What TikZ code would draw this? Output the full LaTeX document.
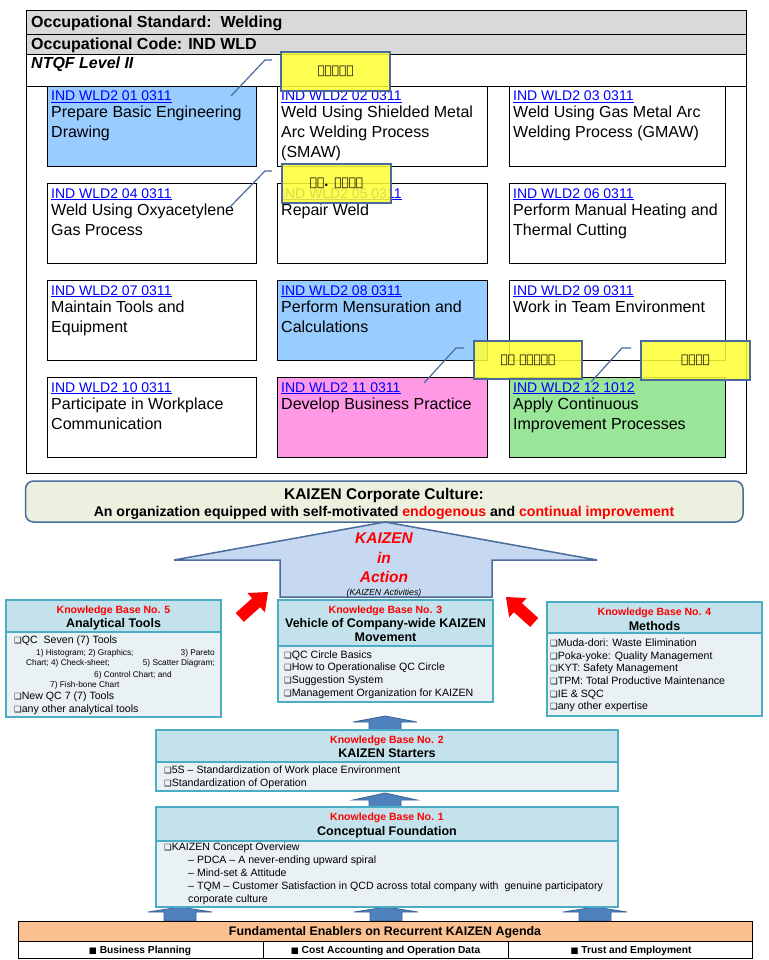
\documentclass[tikz,border=0pt]{standalone}
\usepackage{fontspec}
\setmainfont{Liberation Sans}
\newfontfamily\symf{DejaVu Sans}
\IfFontExistsTF{FreeSerif.otf}{\newfontfamily\ethf{FreeSerif.otf}[AutoFakeBold=1.5]}{\newfontfamily\ethf{DejaVu Sans}}
\newcommand\fs[1]{\fontsize{#1}{#1}\selectfont}
\newcommand\bx{{\symf\fontsize{8.5}{8.5}\selectfont ❑}}
\newcommand\sq{{\symf\fontsize{8.5}{8.5}\selectfont ■}}
\definecolor{codeblue}{HTML}{0000FF}
\definecolor{cellblue}{HTML}{99CCFF}
\definecolor{cellpink}{HTML}{FF99E6}
\definecolor{cellgreen}{HTML}{99E699}
\definecolor{hdrgray}{HTML}{D9D9D9}
\definecolor{calyel}{HTML}{FFFF33}
\definecolor{calline}{HTML}{4A6B9B}
\definecolor{cultfill}{HTML}{EBF1DE}
\definecolor{bigfill}{HTML}{C6D9F1}
\definecolor{kbhead}{HTML}{C3E2EB}
\definecolor{kbbody}{HTML}{E9F1F5}
\definecolor{kbline}{HTML}{4BACC6}
\definecolor{smallfill}{HTML}{4F81BD}
\definecolor{smallline}{HTML}{3B6496}
\definecolor{peach}{HTML}{FAC090}
\tikzset{
  cell/.style={draw=black, line width=0.8pt},
  code/.style={anchor=base west, inner sep=0pt, text=codeblue, font=\fs{14}},
  ttl/.style={anchor=base west, inner sep=0pt, font=\fs{16}},
  hdr/.style={anchor=base west, inner sep=0pt, font=\bfseries\fs{16}},
  callbox/.style={draw=calline, line width=1.3pt, fill=calyel, fill opacity=0.85, text opacity=1,
     minimum width=109pt, minimum height=39pt, inner sep=0pt, font=\ethf\bfseries\fs{12}},
  leader/.style={draw=calline, line width=1.2pt},
  kbframe/.style={draw=kbline, line width=1.2pt},
  kbred/.style={anchor=base, inner sep=0pt, text=red, font=\bfseries\fs{10.5}},
  kbttl/.style={anchor=base, inner sep=0pt, font=\bfseries\fs{12.5}},
  kbitem/.style={anchor=base west, inner sep=0pt, font=\fs{10.6}},
  kbsub/.style={anchor=base west, inner sep=0pt, font=\fs{8.3}},
  kbsubr/.style={anchor=base east, inner sep=0pt, font=\fs{8.3}},
  smallarr/.style={fill=smallfill, draw=smallline, line width=0.8pt},
  redarr/.style={fill=red, draw=none},
  bigtxt/.style={anchor=base, inner sep=0pt, text=red, font=\bfseries\itshape\fs{15.5}},
  entxt/.style={anchor=base, inner sep=0pt, font=\bfseries\fs{10.2}},
}
\newcommand\upblk[4]{\begin{scope}[shift={(#1,0)}]
  \draw[smallarr] (0,#2) -- (32,#3) -- (16,#3) -- (16,#4) -- (-16,#4) -- (-16,#3) -- (-32,#3) -- cycle;
  \end{scope}}
\begin{document}
\begin{tikzpicture}[x=1pt,y=-1pt]
\useasboundingbox (0,0) rectangle (768,960);
\fill[white] (0,0) rectangle (768,960);
% ---------- top frame ----------
\fill[hdrgray] (26,10) rectangle (746,54);
\draw[line width=0.8pt] (26,10) rectangle (746,473);
\draw[line width=0.8pt] (26,34) -- (746,34);
\draw[line width=0.8pt] (26,54) -- (746,54);
\draw[line width=0.8pt] (26,86) -- (746,86);
\node[hdr] (h1) at (31,28) {Occupational Standard:\ \ Welding};
\node[hdr] (h2) at (31,50) {Occupational Code: IND WLD};
\node[hdr, font=\bfseries\itshape\fs{16}] (h3) at (31,69) {NTQF Level II};
% ---------- grid cells ----------
\draw[cell, fill=cellblue] (47,86) rectangle (256,166);
\draw[cell] (277,86) rectangle (487,166);
\draw[cell] (509,86) rectangle (725,166);
\draw[cell] (47,183) rectangle (256,263);
\draw[cell] (277,183) rectangle (487,263);
\draw[cell] (509,183) rectangle (725,263);
\draw[cell] (47,280) rectangle (256,360);
\draw[cell, fill=cellblue] (277,280) rectangle (487,360);
\draw[cell] (509,280) rectangle (725,360);
\draw[cell] (47,377) rectangle (256,457);
\draw[cell, fill=cellpink] (277,377) rectangle (487,457);
\draw[cell, fill=cellgreen] (509,377) rectangle (725,457);
% row 1
\node[code] (c11) at (51,101) {\underline{IND WLD2 01 0311}};
\node[ttl] (t11a) at (51,118) {Prepare Basic Engineering};
\node[ttl] (t11b) at (51,138) {Drawing};
\node[code] (c12) at (281,101) {\underline{IND WLD2 02 0311}};
\node[ttl] (t12a) at (281,118) {Weld Using Shielded Metal};
\node[ttl] (t12b) at (281,138) {Arc Welding Process};
\node[ttl] (t12c) at (281,158) {(SMAW)};
\node[code] (c13) at (513,101) {\underline{IND WLD2 03 0311}};
\node[ttl] (t13a) at (513,118) {Weld Using Gas Metal Arc};
\node[ttl] (t13b) at (513,138) {Welding Process (GMAW)};
% row 2
\node[code] (c21) at (51,198) {\underline{IND WLD2 04 0311}};
\node[ttl] (t21a) at (51,215) {Weld Using Oxyacetylene};
\node[ttl] (t21b) at (51,235) {Gas Process};
\node[code] (c22) at (281,198) {\underline{IND WLD2 05 0311}};
\node[ttl] (t22a) at (281,215) {Repair Weld};
\node[code] (c23) at (513,198) {\underline{IND WLD2 06 0311}};
\node[ttl] (t23a) at (513,215) {Perform Manual Heating and};
\node[ttl] (t23b) at (513,235) {Thermal Cutting};
% row 3
\node[code] (c31) at (51,295) {\underline{IND WLD2 07 0311}};
\node[ttl] (t31a) at (51,312) {Maintain Tools and};
\node[ttl] (t31b) at (51,332) {Equipment};
\node[code] (c32) at (281,295) {\underline{IND WLD2 08 0311}};
\node[ttl] (t32a) at (281,312) {Perform Mensuration and};
\node[ttl] (t32b) at (281,332) {Calculations};
\node[code] (c33) at (513,295) {\underline{IND WLD2 09 0311}};
\node[ttl] (t33a) at (513,312) {Work in Team Environment};
% row 4
\node[code] (c41) at (51,392) {\underline{IND WLD2 10 0311}};
\node[ttl] (t41a) at (51,409) {Participate in Workplace};
\node[ttl] (t41b) at (51,429) {Communication};
\node[code] (c42) at (281,392) {\underline{IND WLD2 11 0311}};
\node[ttl] (t42a) at (281,409) {Develop Business Practice};
\node[code] (c43) at (513,392) {\underline{IND WLD2 12 1012}};
\node[ttl] (t43a) at (513,409) {Apply Continuous};
\node[ttl] (t43b) at (513,429) {Improvement Processes};
% ---------- callouts ----------
\node[callbox] (k1) at (335.5,71.5) {ቴክኖሎጂ};
\node[callbox] (k2) at (336.5,183.5) {ቴክ. ክህሎት};
\node[callbox, minimum width=108pt, minimum height=38pt] (k3) at (528,360) {ሥራ ፈጣሪነት};
\node[callbox] (k4) at (695.5,360.5) {ካይዘን};
\coordinate (l1s) at (272,60);  \coordinate (l1t) at (231,96);
\coordinate (l2s) at (272,171); \coordinate (l2t) at (230,207);
\coordinate (l3s) at (464,348); \coordinate (l3t) at (424,383);
\coordinate (l4s) at (631,348); \coordinate (l4t) at (591,382);
\draw[leader] (l1s) -- (265,60) -- (l1t);
\draw[leader] (l2s) -- (265,171) -- (l2t);
\draw[leader] (l3s) -- (456,348) -- (l3t);
\draw[leader] (l4s) -- (622,348) -- (l4t);
% ---------- culture box ----------
\draw[fill=cultfill, draw=calline, line width=1.5pt, rounded corners=8pt] (25.5,481) rectangle (743,522);
\node[anchor=base, inner sep=0pt, font=\bfseries\fs{15.5}] (cu1) at (384,499) {KAIZEN Corporate Culture:};
\node[anchor=base, inner sep=0pt, font=\bfseries\fs{14.1}] (cu2) at (384,516.5) {An organization equipped with self-motivated \textcolor{red}{endogenous} and \textcolor{red}{continual improvement}};
% ---------- big arrow ----------
\draw[fill=bigfill, draw=calline, line width=1.5pt] (385,522) -- (597,560) -- (492,560) -- (492,597) -- (280,597) -- (280,560) -- (174,560) -- cycle;
\node[bigtxt] (ba1) at (384,543.5) {KAIZEN};
\node[bigtxt] (ba2) at (384,563.5) {in};
\node[bigtxt] (ba3) at (384,582.5) {Action};
\node[anchor=base, inner sep=0pt, font=\itshape\fs{8.8}] (ba4) at (384,595) {(KAIZEN Activities)};
% red arrows
\begin{scope}[shift={(268,592)}, rotate=42]
\fill[redarr] (0,0) -- (-16,-13) -- (-16,-6) -- (-38,-6) -- (-38,6) -- (-16,6) -- (-16,13) -- cycle;
\end{scope}
\begin{scope}[shift={(506,597)}, rotate=138]
\fill[redarr] (0,0) -- (-16,-13) -- (-16,-6) -- (-38,-6) -- (-38,6) -- (-16,6) -- (-16,13) -- cycle;
\end{scope}
% ---------- KB5 ----------
\draw[kbframe, fill=kbbody] (6,600) rectangle (221,717);
\draw[kbframe, fill=kbhead] (6,600) rectangle (221,632);
\node[kbred] (k5a) at (113.5,613) {Knowledge Base No. 5};
\node[kbttl] (k5b) at (113.5,627.5) {Analytical Tools};
\node[kbitem] (k5c) at (14,643) {\bx QC\ \ Seven (7) Tools};
\node[kbsub] (k5d) at (36,655) {1) Histogram; 2) Graphics;};
\node[kbsubr] (k5e) at (215,655) {3) Pareto};
\node[kbsub] (k5f) at (26,665) {Chart; 4) Check-sheet;};
\node[kbsubr] (k5g) at (215,665) {5) Scatter Diagram;};
\node[kbsub] (k5h) at (94,677) {6) Control Chart; and};
\node[kbsub] (k5i) at (50,687.5) {7) Fish-bone Chart};
\node[kbitem] (k5j) at (14,699) {\bx New QC 7 (7) Tools};
\node[kbitem] (k5k) at (14,712) {\bx any other analytical tools};
% ---------- KB3 ----------
\draw[kbframe, fill=kbbody] (278,600) rectangle (493,702);
\draw[kbframe, fill=kbhead] (278,600) rectangle (493,646);
\node[kbred] (k3a) at (385.5,613) {Knowledge Base No. 3};
\node[kbttl] (k3b) at (385.5,627.5) {Vehicle of Company-wide KAIZEN};
\node[kbttl] (k3c) at (385.5,641.5) {Movement};
\node[kbitem] (k3d) at (284,658) {\bx QC Circle Basics};
\node[kbitem] (k3e) at (284,670.7) {\bx How to Operationalise QC Circle};
\node[kbitem] (k3f) at (284,683.4) {\bx Suggestion System};
\node[kbitem] (k3g) at (284,696) {\bx Management Organization for KAIZEN};
% ---------- KB4 ----------
\draw[kbframe, fill=kbbody] (547,602) rectangle (762,716);
\draw[kbframe, fill=kbhead] (547,602) rectangle (762,633);
\node[kbred] (k4a) at (654.5,615) {Knowledge Base No. 4};
\node[kbttl] (k4b) at (654.5,630) {Methods};
\node[kbitem] (k4c) at (550,646) {\bx Muda-dori: Waste Elimination};
\node[kbitem] (k4d) at (550,659) {\bx Poka-yoke: Quality Management};
\node[kbitem] (k4e) at (550,671.5) {\bx KYT: Safety Management};
\node[kbitem] (k4f) at (550,684) {\bx TPM: Total Productive Maintenance};
\node[kbitem] (k4g) at (550,697) {\bx IE \& SQC};
\node[kbitem] (k4h) at (550,709) {\bx any other expertise};
% ---------- small arrows ----------
\upblk{385}{716}{722}{730}
\upblk{385}{793}{800}{807}
\upblk{180}{907}{912}{921}
\upblk{386}{907}{912}{921}
\upblk{595}{907}{912}{921}
% ---------- KB2 ----------
\draw[kbframe, fill=kbbody] (156,730) rectangle (618,791);
\draw[kbframe, fill=kbhead] (156,730) rectangle (618,762);
\node[kbred] (k2a) at (387,743) {Knowledge Base No. 2};
\node[kbttl] (k2b) at (387,757.5) {KAIZEN Starters};
\node[kbitem] (k2c) at (164,773) {\bx 5S – Standardization of Work place Environment};
\node[kbitem] (k2d) at (164,786) {\bx Standardization of Operation};
% ---------- KB1 ----------
\draw[kbframe, fill=kbbody] (156,807) rectangle (618,907);
\draw[kbframe, fill=kbhead] (156,807) rectangle (618,841);
\node[kbred] (k1a) at (387,820) {Knowledge Base No. 1};
\node[kbttl] (k1b) at (387,835.5) {Conceptual Foundation};
\node[kbitem] (k1c) at (164,850) {\bx KAIZEN Concept Overview};
\node[kbitem] (k1d) at (188,863.5) {– PDCA – A never-ending upward spiral};
\node[kbitem] (k1e) at (188,876) {– Mind-set \& Attitude};
\node[kbitem] (k1f) at (188,889.5) {– TQM – Customer Satisfaction in QCD across total company with\ \ genuine participatory};
\node[kbitem] (k1g) at (188,902) {corporate culture};
% ---------- enablers ----------
\fill[peach] (18,921) rectangle (752,941);
\draw[line width=0.8pt] (18,921) rectangle (752,958);
\draw[line width=0.8pt] (18,941) -- (752,941);
\draw[line width=0.8pt] (263,941) -- (263,958);
\draw[line width=0.8pt] (508,941) -- (508,958);
\node[anchor=base, inner sep=0pt, font=\bfseries\fs{12.4}] (en0) at (385,935.5) {Fundamental Enablers on Recurrent KAIZEN Agenda};
\node[entxt] (en1) at (140,953) {\sq\ Business Planning};
\node[entxt] (en2) at (385.5,953) {\sq\ Cost Accounting and Operation Data};
\node[entxt] (en3) at (631,953) {\sq\ Trust and Employment};
\end{tikzpicture}
\end{document}
